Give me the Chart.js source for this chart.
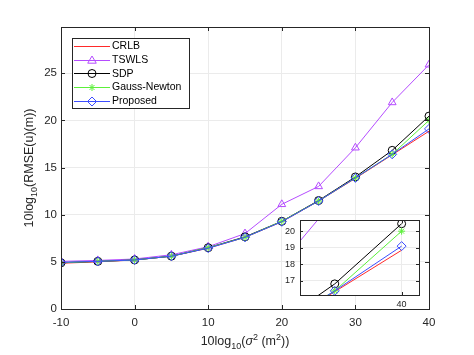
<!DOCTYPE html>
<html><head><meta charset="utf-8">
<script src="https://cdn.jsdelivr.net/npm/chart.js@4/dist/chart.umd.min.js"></script>
<style>
html,body{margin:0;padding:0;background:#fff;}
#wrap{position:relative;width:474px;height:355px;overflow:hidden;}
#main{position:absolute;left:0;top:0;}
#inset{position:absolute;left:280px;top:210px;}
</style></head><body>
<div id="wrap"><canvas id="main" width="474" height="355"></canvas><canvas id="inset" width="150" height="100"></canvas></div>
<script>
// ---- data ----
const xValues   = [-10, -5, 0, 5, 10, 15, 20, 25, 30, 35, 40];
const crlb      = [4.85, 5.0, 5.2, 5.6, 6.45, 7.6, 9.25, 11.45, 13.85, 16.35, 18.85];
const tswls     = [5.05, 5.15, 5.3, 5.75, 6.6, 8.0, 11.1, 13.0, 17.1, 21.9, 25.9];
const sdp       = [4.9, 5.05, 5.2, 5.6, 6.5, 7.65, 9.3, 11.5, 14.0, 16.82, 20.45];
const gaussNewton = [4.9, 5.05, 5.2, 5.6, 6.5, 7.6, 9.3, 11.45, 13.9, 16.4, 20.0];
const proposed  = [4.95, 5.05, 5.2, 5.6, 6.45, 7.6, 9.25, 11.45, 13.9, 16.4, 19.1];
const seriesNames = ['CRLB', 'TSWLS', 'SDP', 'Gauss-Newton', 'Proposed'];
const xTicks = [-10, 0, 10, 20, 30, 40];
const yTicks = [0, 5, 10, 15, 20, 25];
const insetXTicks = [40];
const insetYTicks = [17, 18, 19, 20];

// ---- styles ----
const FONT = '"Liberation Sans", Arial, Helvetica, sans-serif';
const colors = ['#ff2a2a', '#b54cff', '#000000', '#5cf03a', '#3d4dff'];
const markers = [false, 'triangle', 'circle', 'star', 'rectRot'];
const mradius = [0, 4.5, 4, 3.5, 4.5];
const allSeries = [crlb, tswls, sdp, gaussNewton, proposed];

function makeDatasets() {
  return allSeries.map((arr, i) => ({
    label: seriesNames[i],
    data: xValues.map((x, k) => ({x: x, y: arr[k]})),
    borderColor: colors[i],
    backgroundColor: 'rgba(0,0,0,0)',
    pointBorderColor: colors[i],
    pointBackgroundColor: 'rgba(0,0,0,0)',
    pointStyle: markers[i] || 'circle',
    pointRadius: mradius[i],
    pointHoverRadius: mradius[i],
    pointBorderWidth: 1,
    borderWidth: 1,
    tension: 0,
    order: 5 - i
  }));
}

function drawMarker(ctx, style, x, y, r, color) {
  ctx.save();
  ctx.strokeStyle = color; ctx.lineWidth = 1;
  ctx.beginPath();
  if (style === 'triangle') {
    ctx.moveTo(x, y - r); ctx.lineTo(x + r * 0.95, y + r * 0.6); ctx.lineTo(x - r * 0.95, y + r * 0.6); ctx.closePath();
  } else if (style === 'circle') {
    ctx.arc(x, y, r, 0, Math.PI * 2);
  } else if (style === 'star') {
    for (let a = 0; a < 4; a++) {
      const t = a * Math.PI / 4;
      ctx.moveTo(x - r * Math.cos(t), y - r * Math.sin(t));
      ctx.lineTo(x + r * Math.cos(t), y + r * Math.sin(t));
    }
  } else if (style === 'rectRot') {
    ctx.moveTo(x, y - r); ctx.lineTo(x + r, y); ctx.lineTo(x, y + r); ctx.lineTo(x - r, y); ctx.closePath();
  }
  ctx.stroke();
  ctx.restore();
}

// rich text: parts = [[text, kind]], kind: n | sub | sup | it
function richWidth(ctx, parts, size) {
  let w = 0;
  for (const [t, k] of parts) {
    ctx.font = fontFor(k, size);
    w += ctx.measureText(t).width;
  }
  return w;
}
function fontFor(k, size) {
  const s = (k === 'sub' || k === 'sup') ? Math.round(size * 0.72) : size;
  return (k === 'it' ? 'italic ' : '') + s + 'px ' + FONT;
}
function drawRich(ctx, parts, cx, cy, size) {
  const w = richWidth(ctx, parts, size);
  let x = cx - w / 2;
  ctx.textBaseline = 'alphabetic';
  ctx.textAlign = 'left';
  for (const [t, k] of parts) {
    ctx.font = fontFor(k, size);
    let dy = 0;
    if (k === 'sub') dy = size * 0.35;
    if (k === 'sup') dy = -size * 0.4;
    ctx.fillText(t, x, cy + dy);
    x += ctx.measureText(t).width;
  }
}

const boxTicks = {
  id: 'boxTicks',
  beforeDraw(chart, args, opts) {
    if (opts.fillArea) {
      const a = chart.chartArea, ctx = chart.ctx;
      ctx.save(); ctx.fillStyle = '#ffffff';
      ctx.fillRect(a.left, a.top, a.right - a.left, a.bottom - a.top);
      ctx.restore();
    }
  },
  afterDraw(chart, args, opts) {
    const a = chart.chartArea, ctx = chart.ctx;
    const xs = chart.scales.x, ys = chart.scales.y;
    const L = opts.tickLen || 4;
    ctx.save();
    ctx.strokeStyle = '#262626'; ctx.lineWidth = 1;
    ctx.beginPath();
    for (const t of xs.ticks) {
      const px = Math.round(xs.getPixelForValue(t.value)) + 0.5;
      ctx.moveTo(px, a.bottom); ctx.lineTo(px, a.bottom - L);
      ctx.moveTo(px, a.top); ctx.lineTo(px, a.top + L);
    }
    for (const t of ys.ticks) {
      const py = Math.round(ys.getPixelForValue(t.value)) + 0.5;
      ctx.moveTo(a.left, py); ctx.lineTo(a.left + L, py);
      ctx.moveTo(a.right, py); ctx.lineTo(a.right - L, py);
    }
    ctx.stroke();
    ctx.strokeRect(Math.round(a.left) + 0.5, Math.round(a.top) + 0.5, Math.round(a.right - a.left), Math.round(a.bottom - a.top));
    ctx.restore();

    if (opts.titles) {
      ctx.save();
      ctx.fillStyle = '#262626';
      drawRich(ctx, [['10log', 'n'], ['10', 'sub'], ['(', 'n'], ['σ', 'it'], ['2', 'sup'], [' (m', 'n'], ['2', 'sup'], ['))', 'n']],
        (a.left + a.right) / 2, 345, 12.5);
      ctx.translate(33, (a.top + a.bottom) / 2);
      ctx.rotate(-Math.PI / 2);
      drawRich(ctx, [['10log', 'n'], ['10', 'sub'], ['(RMSE(u)(m))', 'n']], 0, 0, 12.5);
      ctx.restore();
    }
    if (opts.legend) {
      const bx = 72.5, by = 38.5, bw = 117, bh = 70;
      ctx.save();
      ctx.fillStyle = '#fff';
      ctx.fillRect(bx, by, bw, bh);
      ctx.strokeStyle = '#262626'; ctx.lineWidth = 1;
      ctx.strokeRect(bx, by, bw, bh);
      ctx.font = '10.5px ' + FONT;
      ctx.textBaseline = 'middle'; ctx.textAlign = 'left';
      chart.data.datasets.forEach((ds, i) => {
        const y = 46 + i * 13.7;
        ctx.strokeStyle = ds.borderColor; ctx.lineWidth = 1;
        ctx.beginPath(); ctx.moveTo(74, Math.round(y) + 0.5); ctx.lineTo(110, Math.round(y) + 0.5); ctx.stroke();
        if (markers[i]) drawMarker(ctx, markers[i], 92, Math.round(y) + 0.5, mradius[i], ds.borderColor);
        ctx.fillStyle = '#000';
        ctx.fillText(ds.label, 112, y + 0.5);
      });
      ctx.restore();
    }
  }
};

function fixTicks(list) {
  return function (scale) { scale.ticks = list.map(v => ({value: v})); };
}

// ---- main chart ----
new Chart(document.getElementById('main'), {
  type: 'line',
  data: { datasets: makeDatasets() },
  plugins: [boxTicks],
  options: {
    responsive: false, animation: false, devicePixelRatio: 1,
    layout: { padding: { left: 0, top: 27, right: 45, bottom: 0 } },
    plugins: {
      legend: { display: false }, tooltip: { enabled: false },
      boxTicks: { tickLen: 4, titles: true, legend: true }
    },
    scales: {
      x: {
        type: 'linear', min: -10, max: 40,
        afterBuildTicks: fixTicks(xTicks),
        afterFit: s => { s.height = 46; },
        grid: { color: '#ebebeb', drawTicks: false },
        border: { display: false },
        ticks: { padding: 7, color: '#262626', font: { family: FONT, size: 11.5 }, maxRotation: 0, callback: v => String(v) }
      },
      y: {
        type: 'linear', min: 0, max: 29.9,
        afterBuildTicks: fixTicks(yTicks),
        afterFit: s => { s.width = 61; },
        grid: { color: '#ebebeb', drawTicks: false },
        border: { display: false },
        ticks: { padding: 4, color: '#262626', font: { family: FONT, size: 11.5 }, callback: v => String(v) }
      }
    }
  }
});

// ---- inset (zoom on the last points) ----
new Chart(document.getElementById('inset'), {
  type: 'line',
  data: { datasets: makeDatasets() },
  plugins: [boxTicks],
  options: {
    responsive: false, animation: false, devicePixelRatio: 1,
    layout: { padding: { left: 0, top: 10, right: 11, bottom: 0 } },
    plugins: {
      legend: { display: false }, tooltip: { enabled: false },
      boxTicks: { tickLen: 3, fillArea: true }
    },
    scales: {
      x: {
        type: 'linear', min: 32.4, max: 41.3,
        afterBuildTicks: fixTicks(insetXTicks),
        afterFit: s => { s.height = 15; },
        grid: { color: '#ebebeb', drawTicks: false },
        border: { display: false },
        ticks: { padding: 4, color: '#262626', font: { family: FONT, size: 9 }, maxRotation: 0, callback: v => String(v) }
      },
      y: {
        type: 'linear', min: 16.15, max: 20.65,
        afterBuildTicks: fixTicks(insetYTicks),
        afterFit: s => { s.width = 20; },
        grid: { color: '#ebebeb', drawTicks: false },
        border: { display: false },
        ticks: { padding: 5, color: '#262626', font: { family: FONT, size: 9 }, callback: v => String(v) }
      }
    }
  }
});
</script>
</body></html>
